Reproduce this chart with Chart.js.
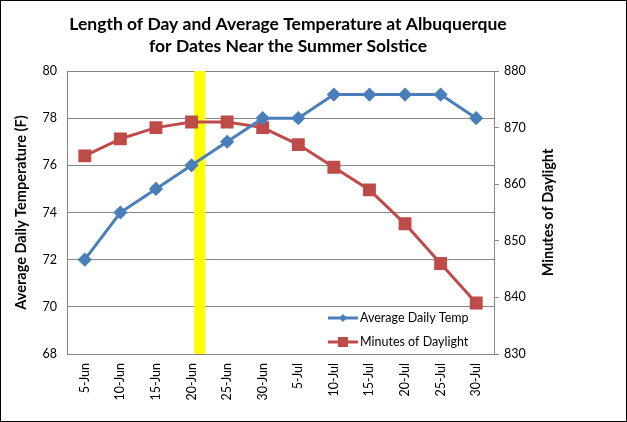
<!DOCTYPE html>
<html>
<head>
<meta charset="utf-8">
<script src="https://cdn.jsdelivr.net/npm/chart.js@4"></script>
<style>
    body { margin: 0; background: #fff; }
    #wrap { width: 627px; height: 422px; }
</style>
</head>
<body>
<div id="wrap"><canvas id="dayChart"></canvas></div>
<script>
const dateLabels = ['5-Jun', '10-Jun', '15-Jun', '20-Jun', '25-Jun', '30-Jun', '5-Jul', '10-Jul', '15-Jul', '20-Jul', '25-Jul', '30-Jul'];
const avgTemp = [72, 74, 75, 76, 77, 78, 78, 79, 79, 79, 79, 78];
const daylightMinutes = [865, 868, 870, 871, 871, 870, 867, 863, 859, 853, 846, 839];
// solstice is 21-Jun: one day past the 20-Jun label (5 days per step)
const solsticePos = 3 + 1 / 5;
const titleLines = ['Length of Day and Average Temperature at Albuquerque', 'for Dates Near the Summer Solstice'];
const rightTitle = 'Minutes of Daylight';

const chartFont = 'Lato, "Open Sans", sans-serif';
const gridColor = '#878787';

const frameAndBand = {
    id: 'frameAndBand',
    beforeDraw(chart) {
        const ctx = chart.ctx;
        ctx.save();
        ctx.fillStyle = '#fff';
        ctx.fillRect(0, 0, chart.width, chart.height);
        ctx.restore();
    },
    beforeDatasetsDraw(chart) {
        const ctx = chart.ctx;
        const area = chart.chartArea;
        const x = chart.scales.x.getPixelForValue(solsticePos);
        ctx.save();
        ctx.fillStyle = '#ffff00';
        ctx.fillRect(x - 4.5, area.top, 11, area.bottom - area.top);
        ctx.restore();
    },
    afterDraw(chart) {
        const ctx = chart.ctx;
        const area = chart.chartArea;
        ctx.save();
        ctx.strokeStyle = '#000';
        ctx.lineWidth = 1;
        ctx.strokeRect(0.5, 0.5, chart.width - 1, chart.height - 1);

        // main title
        ctx.font = 'bold 17.5px ' + chartFont;
        ctx.textAlign = 'center';
        ctx.textBaseline = 'alphabetic';
        ctx.fillStyle = '#000';
        ctx.fillText(titleLines[0], 288, 30);
        ctx.fillText(titleLines[1], 288, 52);

        // right axis title, reading bottom to top like the left one
        ctx.save();
        ctx.translate(area.right + 54, (area.top + area.bottom) / 2);
        ctx.rotate(-Math.PI / 2);
        ctx.font = 'bold 14.5px ' + chartFont;
        ctx.textBaseline = 'middle';
        ctx.fillText(rightTitle, 0, 0);
        ctx.restore();

        // legend inside the plot, bottom right
        ctx.font = '12.5px ' + chartFont;
        ctx.textAlign = 'left';
        ctx.textBaseline = 'middle';
        chart.data.datasets.forEach((ds, i) => {
            const y = area.bottom - 36 + i * 24;
            const x0 = area.left + 261;
            ctx.strokeStyle = ds.borderColor;
            ctx.lineWidth = 3;
            ctx.beginPath();
            ctx.moveTo(x0, y);
            ctx.lineTo(x0 + 30, y);
            ctx.stroke();
            ctx.fillStyle = ds.backgroundColor;
            if (ds.pointStyle === 'rect') {
                ctx.fillRect(x0 + 10, y - 5, 10, 10);
            } else {
                ctx.beginPath();
                ctx.moveTo(x0 + 15, y - 4);
                ctx.lineTo(x0 + 19, y);
                ctx.lineTo(x0 + 15, y + 4);
                ctx.lineTo(x0 + 11, y);
                ctx.closePath();
                ctx.fill();
            }
            ctx.fillStyle = '#000';
            ctx.fillText(ds.label, x0 + 32, y);
        });
        ctx.restore();
    }
};

new Chart(document.getElementById('dayChart'), {
    type: 'line',
    data: {
        labels: dateLabels,
        datasets: [{
            label: 'Average Daily Temp',
            data: avgTemp,
            yAxisID: 'y',
            borderColor: '#4a7ebb',
            backgroundColor: '#4a7ebb',
            borderWidth: 3,
            pointStyle: 'rectRot',
            pointRadius: 5,
            pointHoverRadius: 5,
            tension: 0
        }, {
            label: 'Minutes of Daylight',
            data: daylightMinutes,
            yAxisID: 'y1',
            borderColor: '#be4b48',
            backgroundColor: '#be4b48',
            borderWidth: 3,
            pointStyle: 'rect',
            pointRadius: 7,
            pointHoverRadius: 7,
            tension: 0
        }]
    },
    options: {
        responsive: true,
        maintainAspectRatio: false,
        animation: false,
        layout: { padding: { left: 0, right: 99, top: 71, bottom: 0 } },
        plugins: {
            legend: { display: false },
            tooltip: { enabled: false },
            title: { display: false }
        },
        scales: {
            x: {
                offset: true,
                grid: { display: false, drawTicks: false },
                border: { display: true, color: gridColor },
                ticks: {
                    color: '#000',
                    font: { family: chartFont, size: 12.5 },
                    minRotation: 90,
                    maxRotation: 90,
                    autoSkip: false,
                    padding: 9
                },
                afterFit(scale) { scale.height = 68; }
            },
            y: {
                position: 'left',
                min: 68,
                max: 80,
                ticks: { stepSize: 2, color: '#000', font: { family: chartFont, size: 12.5 }, padding: 10 },
                grid: { color: gridColor, drawTicks: false },
                border: { color: gridColor },
                title: {
                    display: true,
                    text: 'Average Daily Temperature (F)',
                    color: '#000',
                    font: { family: chartFont, size: 14.5, weight: 'bold' },
                    padding: { top: 13, bottom: 4 }
                },
                afterFit(scale) { scale.width = 67; }
            },
            y1: {
                position: 'right',
                min: 830,
                max: 880,
                ticks: { stepSize: 10, color: '#000', font: { family: chartFont, size: 12.5 }, padding: 5 },
                grid: { drawOnChartArea: false, color: gridColor, tickLength: 5 },
                border: { color: gridColor },
                afterFit(scale) { scale.width = 34; }
            }
        }
    },
    plugins: [frameAndBand]
});
</script>
</body>
</html>
